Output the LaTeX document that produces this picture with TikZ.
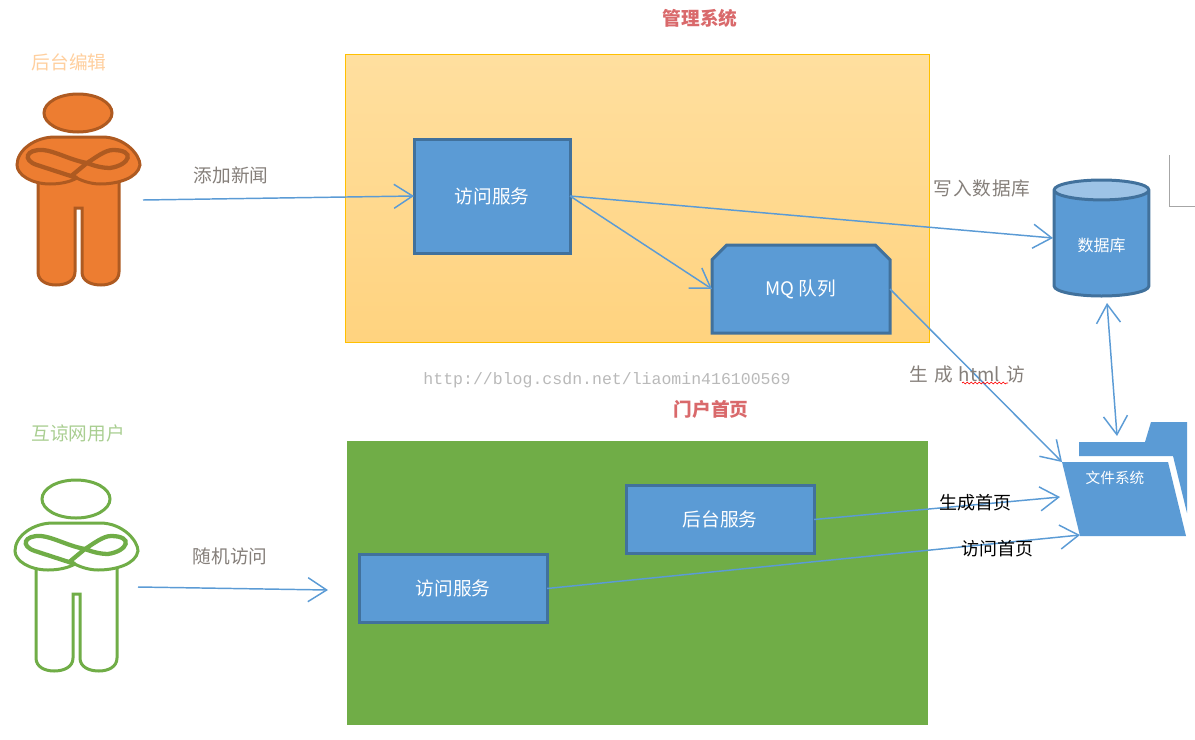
\documentclass[tikz,border=0pt]{standalone}
\usepackage{fontspec}
\setmainfont{Noto Sans CJK SC}
\newfontfamily\wmfont{Liberation Mono}
\usetikzlibrary{shapes, shapes.misc, shapes.geometric, arrows.meta, decorations.pathmorphing}
\definecolor{boxblue}{HTML}{5B9BD5}
\definecolor{boxedge}{HTML}{41719C}
\definecolor{lineblue}{HTML}{5B9BD5}
\definecolor{orangefill}{HTML}{ED7D31}
\definecolor{orangeedge}{HTML}{AE5A21}
\definecolor{greenfill}{HTML}{70AD47}
\definecolor{titlered}{HTML}{D9696B}
\definecolor{labelgray}{HTML}{857F7A}
\definecolor{paneltop}{HTML}{FFDF9F}
\definecolor{panelbottom}{HTML}{FFD37F}
\definecolor{paneledge}{HTML}{FFC000}
\definecolor{dbtop}{HTML}{9DC3E6}
\tikzset{
    flow/.style = {color=lineblue, line width=1.1pt, -{Straight Barb[length=14pt,width=18pt,line width=1.1pt]}},
    bidirected/.style = {color=lineblue, line width=1.1pt, {Straight Barb[length=14pt,width=18pt,line width=1.1pt]}-{Straight Barb[length=14pt,width=18pt,line width=1.1pt]}},
    service/.style = {rectangle, draw=boxedge, fill=boxblue, line width=2.25pt, text=white, font=\fontsize{14}{16}\selectfont, outer sep=0pt},
    tag/.style = {text=labelgray, font=\fontsize{14}{16}\selectfont, inner sep=0pt},
    title/.style = {text=titlered, font=\bfseries\fontsize{14}{16}\selectfont, inner sep=0pt},
    person/.pic = {
      \path[pic actions] (38,175) -- (38,272) .. controls (38,281) and (47,285) .. (56,285) .. controls (66,285) and (75,281) .. (75,272) -- (75,208) -- (82,208) -- (82,272) .. controls (82,281) and (91,285) .. (101,285) .. controls (110,285) and (119,281) .. (119,272) -- (119,175) -- cycle;
      \path[pic actions] (55,137) -- (102,137) .. controls (125,137) and (140,155) .. (140,165) .. controls (138,178) and (118,184) .. (100,184) .. controls (90,184) and (80,180) .. (77,178) .. controls (70,182) and (60,184) .. (50,184) .. controls (32,184) and (17,175) .. (17,165) .. controls (17,150) and (35,137) .. (55,137) -- cycle;
      \path[pic actions] (78,113) ellipse [x radius=34, y radius=19];
      \path[pic actions, fill=none, line width=3.2pt] (77,178) -- (37,165) .. controls (22,160) and (26,149) .. (43,150) .. controls (55,151) and (70,160) .. (87,163) .. controls (97,167) and (105,168) .. (110,168) .. controls (130,165) and (136,150) .. (113,150) .. controls (105,150) and (95,158) .. (87,163) -- (70,177);
    }
}
\begin{document}
\begin{tikzpicture}[x=.75pt,y=-.75pt]
  \useasboundingbox (0,0) rectangle (1195,739);

  % panels
  \node[rectangle, draw=paneledge, line width=.75pt, top color=paneltop, bottom color=panelbottom, minimum width=438pt, minimum height=216pt, outer sep=0pt] (mgmt) at (637,198) {};
  \node[rectangle, fill=greenfill, minimum width=435.75pt, minimum height=213pt, outer sep=0pt] (portal) at (637.5,583) {};

  % people
  \pic[draw=orangeedge, fill=orangefill, line width=2.25pt] at (0,0) {person};
  \pic[draw=greenfill, fill=white, line width=2.25pt] at (-2,386) {person};

  % services
  \node[service, minimum width=117pt, minimum height=85.5pt] (visit) at (492,196) {访问服务};
  \node[service, inner sep=0pt, chamfered rectangle, chamfered rectangle corners={north west,north east}, chamfered rectangle xsep=5.5pt, chamfered rectangle ysep=5.5pt, minimum width=133.5pt, minimum height=66pt] (mq) at (801,289) {MQ 队列};
  \node[service, minimum width=141pt, minimum height=51.5pt] (backend) at (720,519.5) {后台服务};
  \node[service, minimum width=141pt, minimum height=51.5pt] (access) at (453,588.5) {访问服务};
  \node[service, fill=none, cylinder, shape border rotate=90, aspect=.35, anchor=shape center, cylinder uses custom fill, cylinder body fill=boxblue, cylinder end fill=dbtop, minimum width=71pt, minimum height=87pt, font=\fontsize{12}{14}\selectfont] (db) at (1101.5,238) {数据库};

  % folder
  \fill[boxblue] (1079,442) -- (1145,442) -- (1151,422) -- (1187,422) -- (1187,513) -- (1173,456) -- (1079,456) -- cycle;
  \fill[boxblue] (1062,462) -- (1168,462) -- (1186,536) -- (1080,536) -- cycle;
  \node[text=white, inner sep=0pt, font=\fontsize{11}{13}\selectfont] (files) at (1115,478) {文件系统};

  % free ends
  \coordinate (editorout) at (143,200);
  \coordinate (userout) at (138,587);
  \coordinate (portalin) at (328,590);
  \coordinate (dbin) at (1053,238);
  \coordinate (dbout) at (1107,303);
  \coordinate (filetop) at (1117,436);
  \coordinate (filehtml) at (1062,462);
  \coordinate (filehome) at (1060,497);
  \coordinate (fileread) at (1080,535);

  \path[flow] (editorout) edge (visit.west);
  \path[flow] (visit.east) edge (mq.west);
  \path[flow] (visit.east) edge (dbin);
  \path[flow] (mq.east) edge (filehtml);
  \path[bidirected] (dbout) edge (filetop);
  \path[flow] (backend.east) edge (filehome);
  \path[flow] (access.east) edge (fileread);
  \path[flow] (userout) edge (portalin);

  % labels
  \node[title] (mgmttitle) at (700,18) {管理系统};
  \node[title] (portaltitle) at (711,409) {门户首页};
  \node[tag, text=orange!38!white] (editor) at (69,62) {后台编辑};
  \node[tag, text=greenfill!60!white] (user) at (78,433) {互谅网用户};
  \node[tag] (addnews) at (231,175) {添加新闻};
  \node[tag] (randomvisit) at (230,556) {随机访问};
  \node[tag, font=\fontsize{14}{16}\selectfont\addfontfeature{LetterSpace=5}] (writedb) at (982,188) {写入数据库};
  \node[tag, text=labelgray] (genhtml) at (967,374) {生\,\,成\,\,html\,\,访};
  \node[tag, text=black, font=\fontsize{13.5}{16}\selectfont] (genhome) at (975,503) {生成首页};
  \node[tag, text=black, font=\fontsize{13.5}{16}\selectfont] (visithome) at (997,549) {访问首页};
  \node[text=gray!55!white, inner sep=0pt, font=\wmfont\fontsize{12.4}{14}\selectfont] (mark) at (607,380) {http://blog.csdn.net/liaomin416100569};

  % spell check mark and stray corner
  \draw[red, line width=.5pt, decorate, decoration={snake,amplitude=.7pt,segment length=3pt}] (962,383) -- (1008,383);
  \draw[gray!70!white, line width=.75pt] (1169,155) -- (1169,206) -- (1195,206);
\end{tikzpicture}
\end{document}
